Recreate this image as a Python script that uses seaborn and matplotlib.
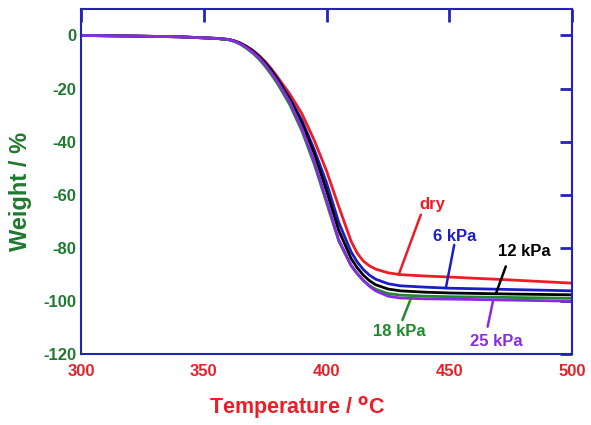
import seaborn as sns
import pandas as pd
import matplotlib.pyplot as plt

# temperature grid (deg C) and weight change (%)
temps = [300, 320, 340, 350, 355, 360, 362.5, 365, 367.5, 370, 372.5, 375, 377.5,
         380, 385, 390, 395, 400, 405, 410, 412.5, 415, 417.5, 420, 425, 430,
         440, 450, 475, 500]

w_dry = [0, -0.2, -0.5, -0.9, -1.1, -1.5, -2.0, -2.9, -4.1, -5.6, -7.5, -9.8, -12.5,
         -15.6, -22, -29.5, -39.5, -51, -64.5, -77.5, -82, -85, -86.8, -88, -89.4, -90.1,
         -90.6, -91.0, -92.1, -93.3]
w_6 = [0, -0.2, -0.5, -0.9, -1.1, -1.5, -2.1, -3.0, -4.3, -5.8, -7.8, -10.2, -13,
       -16.2, -23.5, -32, -43, -55.5, -70.5, -81.5, -85.3, -88.2, -90.3, -91.8, -93.5, -94.3,
       -94.8, -95.2, -95.7, -96.2]
w_12 = [0, -0.2, -0.5, -0.9, -1.1, -1.5, -2.1, -3.0, -4.3, -5.9, -7.9, -10.3, -13.2,
        -16.5, -24, -33, -44.5, -58.5, -73.5, -84, -87.5, -90.3, -92.4, -93.9, -95.5, -96.2,
        -96.7, -97.0, -97.4, -97.7]
w_18 = [0, -0.2, -0.5, -0.9, -1.1, -1.6, -2.3, -3.4, -4.9, -6.7, -8.9, -11.6, -14.7,
        -18.1, -26, -36, -48.5, -63, -77.5, -86.8, -89.8, -92.3, -94.2, -95.6, -97.2, -97.8,
        -98.2, -98.4, -98.7, -99.0]
w_25 = [0, -0.2, -0.5, -0.9, -1.1, -1.5, -2.2, -3.2, -4.6, -6.3, -8.4, -11, -14,
        -17.3, -25, -35, -47.5, -62, -77, -86.5, -89.6, -92.3, -94.5, -96.2, -98.2, -98.9,
        -99.2, -99.3, -99.7, -100.1]

series = ["dry", "6 kPa", "12 kPa", "18 kPa", "25 kPa"]
colors = ["#ee1c25", "#1c1cc8", "#000000", "#1e8a2e", "#8a2be2"]

frames = []
for name, w in zip(series, [w_dry, w_6, w_12, w_18, w_25]):
    frames.append(pd.DataFrame({"T": temps, "W": w, "s": name}))
df = pd.concat(frames)

sns.set_style("white")
plt.rcParams["font.family"] = ["Liberation Sans", "DejaVu Sans"]
plt.rcParams["font.weight"] = "bold"
plt.rcParams["axes.unicode_minus"] = False

fig = plt.figure(figsize=(5.91, 4.25), dpi=100)
ax = fig.add_axes([0.137, 0.167, 0.831, 0.812])

sns.lineplot(data=df, x="T", y="W", hue="s", palette=colors, hue_order=series,
             linewidth=2, legend=False, ax=ax)

ax.set_xlim(300, 500)
ax.set_ylim(-120, 10)
ax.set_xticks([300, 350, 400, 450, 500])
ax.set_yticks([0, -20, -40, -60, -80, -100, -120])

frame = "#2424b4"
for sp in ax.spines.values():
    sp.set_color(frame)
    sp.set_linewidth(1.5)
ax.tick_params(direction="in", length=9, width=2, color=frame,
               top=True, right=True, labelsize=12)
for lab in ax.get_xticklabels():
    lab.set_color("#e8202a")
    lab.set_fontweight("bold")
for lab in ax.get_yticklabels():
    lab.set_color("#1e7a2e")
    lab.set_fontweight("bold")
ax.tick_params(axis="x", pad=7)

ax.set_xlabel("Temperature / $^{\\mathrm{o}}$C", color="#ee1c25", fontsize=15.5,
              fontweight="bold", labelpad=6)
ax.xaxis.set_label_coords(0.44, -0.115)
ax.set_ylabel("Weight / %", color="#1e7a2e", fontsize=17, fontweight="bold")
ax.yaxis.set_label_coords(-0.1, 0.472)

# labels with leader lines
notes = [
    ("dry", colors[0], (443, -63.8), (438.4, -67.5), (429.4, -90.1)),
    ("6 kPa", colors[1], (452, -75.7), (452, -78.9), (448.6, -95.1)),
    ("12 kPa", colors[2], (480.5, -81.4), (473, -87), (469, -97.2)),
    ("18 kPa", colors[3], (429.5, -111.6), (430.9, -107.2), (434.3, -99.2)),
    ("25 kPa", colors[4], (469, -115.4), (465.6, -109.7), (467.9, -99.6)),
]
for txt, c, tpos, p0, p1 in notes:
    ax.text(tpos[0], tpos[1], txt, color=c, fontsize=12, fontweight="bold",
            ha="center", va="center")
    ax.plot([p0[0], p1[0]], [p0[1], p1[1]], color=c, linewidth=1.8)

fig.savefig("out.png", dpi=100)
